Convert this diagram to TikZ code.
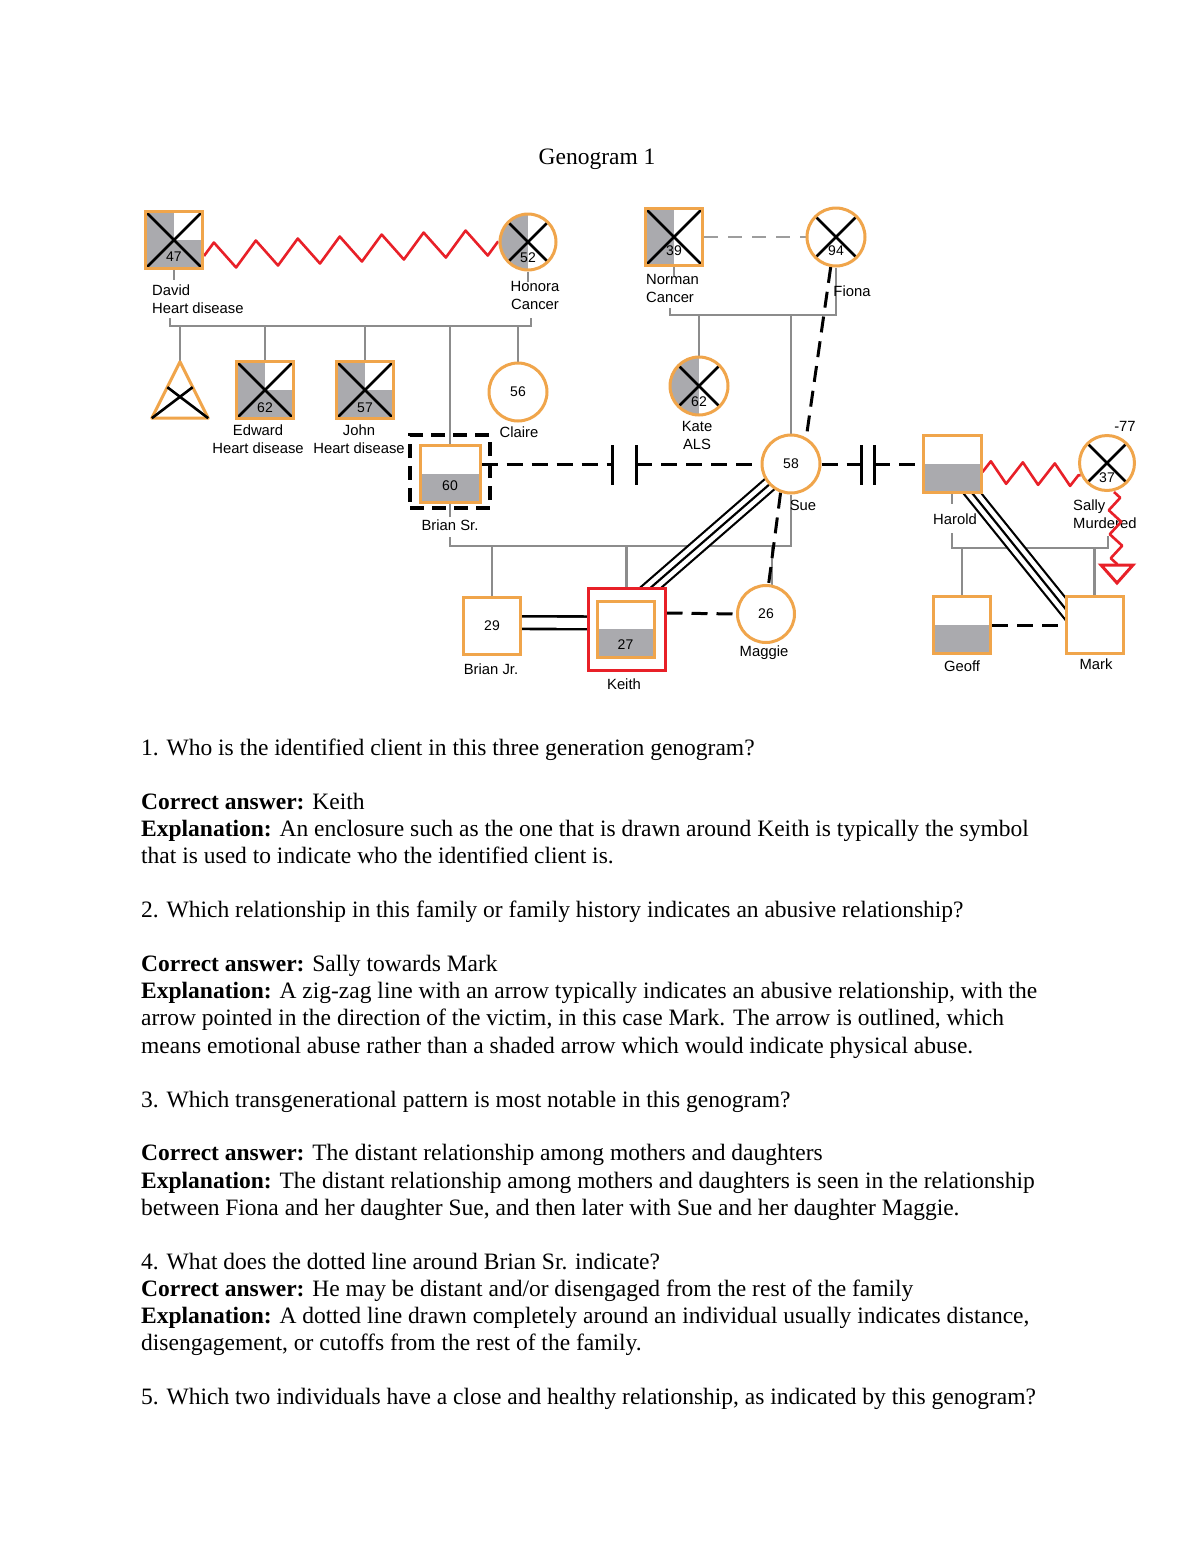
\documentclass[tikz,border=0pt]{standalone}
\usepackage{fontspec}
\setmainfont{Liberation Serif}
\newfontfamily\gfont{Liberation Sans}
\usetikzlibrary{calc,decorations.pathmorphing,backgrounds}
\definecolor{orng}{RGB}{240,165,75}
\definecolor{gry}{RGB}{170,170,174}
\definecolor{kingry}{RGB}{140,140,140}
\definecolor{rd}{RGB}{232,32,40}
\newcommand\ppbb{path picture bounding box}
\newcommand\PX{\draw[line width=2.6pt,black] (\ppbb.south west)--(\ppbb.north east) (\ppbb.north west)--(\ppbb.south east);}
\newcommand\PLeft{\fill[gry] (\ppbb.south west) rectangle (\ppbb.north);}
\newcommand\PBot{\fill[gry] (\ppbb.west) rectangle (\ppbb.south east);}
\newcommand\PThree{\fill[gry] (\ppbb.south west) rectangle (\ppbb.north east);\fill[white] (\ppbb.center) rectangle (\ppbb.north east);}
\newcommand\lownum[2]{\raisebox{-#1pt}[0pt][0pt]{#2}}
\tikzset{
  person/.style={draw=orng, line width=3pt, fill=white, inner sep=0pt, font=\gfont\fontsize{14}{15}\selectfont},
  male/.style={person, rectangle, minimum size=57pt},
  female/.style={person, circle, minimum size=57pt},
  pp/.style={path picture={#1}},
  lbl/.style={font=\gfont\fontsize{14.8}{18}\selectfont, inner sep=0pt, align=center},
  kin/.style={draw=kingry, line width=2.2pt},
  distant/.style={draw=black, line width=3pt, dash pattern=on 16pt off 9pt},
  cutbar/.style={draw=black, line width=3pt},
  hostile/.style 2 args={draw=rd, line width=2.6pt, line join=round, decorate, decoration={zigzag, segment length=#1, amplitude=#2}},
  triple/.style={preaction={draw=black, line width=16pt}, preaction={draw=white, line width=11.6pt}, draw=black, line width=2.2pt},
  dbl/.style={draw=black, double=white, line width=2.6pt, double distance=10pt},
  body/.style={anchor=base west, inner sep=0pt, font=\fontsize{23.5}{27}\selectfont},
}
\begin{document}
\begin{tikzpicture}[x=1pt,y=-1pt]
\path[use as bounding box] (0,0) rectangle (1200,1553);
\node[anchor=base, inner sep=0pt, font=\fontsize{23.5}{27}\selectfont] (title) at (597,164) {Genogram 1};

% ---------- persons ----------
\node[male, pp={\PThree\PX}] (david) at (174,240) {\lownum{21}{47}};
\node[female, minimum size=56pt, pp={\PLeft\PX}] (honora) at (528,242) {\lownum{20}{52}};
\node[male, pp={\PLeft\PX}] (norman) at (674,237) {\lownum{18}{39}};
\node[female, minimum size=58pt, pp={\PX}] (fiona) at (836,237) {\lownum{18}{94}};

\node[minimum size=56pt, inner sep=0pt] (tri) at (180,390) {};
\draw[draw=orng, line width=3pt, fill=white, line join=round] (tri.south west) -- (tri.north) -- (tri.south east) -- cycle;
\draw[line width=2.6pt] (tri.south west) -- ($(tri.south east)!0.55!(tri.north)$);
\draw[line width=2.6pt] (tri.south east) -- ($(tri.south west)!0.55!(tri.north)$);
\node[male, pp={\PThree\PX}] (edward) at (265,390) {\lownum{22}{62}};
\node[male, pp={\PThree\PX}] (john) at (365,390) {\lownum{22}{57}};
\node[female, minimum size=58pt] (claire) at (518,392) {56};
\node[female, minimum size=58pt, pp={\PLeft\PX}] (kate) at (699,386) {\lownum{20}{62}};

\node[draw=black, line width=3.8pt, dash pattern=on 14pt off 8pt, minimum width=80pt, minimum height=73pt, inner sep=0pt] (encl) at (450,471.5) {};
\node[male, minimum width=60pt, pp={\PBot}] (briansr) at (450,473.5) {\lownum{17}{60}};
\node[female, minimum size=58pt] (sue) at (791,464) {58};
\node[male, minimum width=58pt, pp={\PBot}] (harold) at (952,464) {};
\node[female, minimum size=55pt, pp={\PX}] (sally) at (1107,463) {\lownum{19}{37}};

\node[male] (brianjr) at (492,626) {29};
\node[draw=rd, line width=3pt, fill=white, minimum width=77pt, minimum height=82pt, inner sep=0pt] (keithbox) at (626.5,629) {};
\node[male, minimum height=56pt, pp={\PBot}] (keith) at (625.5,629) {\lownum{20}{27}};
\node[female] (maggie) at (766,614) {26};
\node[male, pp={\PBot}] (geoff) at (962,625) {};
\node[male] (mark) at (1094.5,625) {};

% ---------- labels ----------
\node[lbl, align=left, anchor=west] (davidl) at (152,299) {David\\Heart disease};
\node[lbl] (honoral) at (535,295) {Honora\\Cancer};
\node[lbl, align=left, anchor=west] (normanl) at (646,288) {Norman\\Cancer};
\node[lbl] (fional) at (852,291) {Fiona};
\node[lbl] (edwardl) at (258,439) {Edward\\Heart disease};
\node[lbl] (johnl) at (359,439) {John\\Heart disease};
\node[lbl] (clairel) at (519,432) {Claire};
\node[lbl] (katel) at (697,435) {Kate\\ALS};
\node[lbl] (briansrl) at (450,525) {Brian Sr.};
\node[lbl] (suel) at (803,505) {Sue};
\node[lbl] (haroldl) at (955,519) {Harold};
\node[lbl] (sallyd) at (1125,426) {-77};
\node[lbl, align=left, anchor=west] (sallyl) at (1073,514) {Sally\\Murdered};
\node[lbl] (brianjrl) at (491,669) {Brian Jr.};
\node[lbl] (keithl) at (624,684) {Keith};
\node[lbl] (maggiel) at (764,653) {Maggie};
\node[lbl] (geoffl) at (962,666) {Geoff};
\node[lbl] (markl) at (1096,664) {Mark};

% ---------- text ----------
\node[body] (t1) at (141,755) {1. Who is the identified client in this three generation genogram?};
\node[body] (t2) at (141,809) {\textbf{Correct answer:} Keith};
\node[body] (t3) at (141,836) {\textbf{Explanation:} An enclosure such as the one that is drawn around Keith is typically the symbol};
\node[body] (t4) at (141,863) {that is used to indicate who the identified client is.};
\node[body] (t5) at (141,917) {2. Which relationship in this family or family history indicates an abusive relationship?};
\node[body] (t6) at (141,971) {\textbf{Correct answer:} Sally towards Mark};
\node[body] (t7) at (141,998) {\textbf{Explanation:} A zig-zag line with an arrow typically indicates an abusive relationship, with the};
\node[body] (t8) at (141,1025) {arrow pointed in the direction of the victim, in this case Mark. The arrow is outlined, which};
\node[body] (t9) at (141,1053) {means emotional abuse rather than a shaded arrow which would indicate physical abuse.};
\node[body] (t10) at (141,1107) {3. Which transgenerational pattern is most notable in this genogram?};
\node[body] (t11) at (141,1160) {\textbf{Correct answer:} The distant relationship among mothers and daughters};
\node[body] (t12) at (141,1188) {\textbf{Explanation:} The distant relationship among mothers and daughters is seen in the relationship};
\node[body] (t13) at (141,1215) {between Fiona and her daughter Sue, and then later with Sue and her daughter Maggie.};
\node[body] (t14) at (141,1269) {4. What does the dotted line around Brian Sr. indicate?};
\node[body] (t15) at (141,1296) {\textbf{Correct answer:} He may be distant and/or disengaged from the rest of the family};
\node[body] (t16) at (141,1323) {\textbf{Explanation:} A dotted line drawn completely around an individual usually indicates distance,};
\node[body] (t17) at (141,1350) {disengagement, or cutoffs from the rest of the family.};
\node[body] (t18) at (141,1404) {5. Which two individuals have a close and healthy relationship, as indicated by this genogram?};

% ---------- connectors (behind) ----------
\begin{scope}[on background layer]
\fill[white] (0,0) rectangle (1200,1553);
% David + Honora
\coordinate (dhL) at (170,326);
\coordinate (dhR) at (531,326);
\draw[kin] (david.south) -- ++(0,10);
\draw[kin] (honora.south) -- ++(0,10);
\draw[kin] ($(dhL)+(0,-8)$) -- (dhL) -- (dhR) -- ++(0,-8);
\draw[kin] (tri.north |- dhL) -- (tri.north);
\draw[kin] (edward.north |- dhL) -- (edward.north);
\draw[kin] (john.north |- dhL) -- (john.north);
\draw[kin] (briansr.north |- dhL) -- (briansr.north);
\draw[kin] (claire.north |- dhL) -- (claire.north);
\draw[hostile={42pt}{13pt}] ($(david.east)+(0,16)$) -- (honora.west);
% Norman + Fiona
\coordinate (nfL) at (670,315);
\coordinate (nfR) at (836,315);
\draw[kin] (norman.south) -- ++(0,9);
\draw[kin] ($(nfL)+(0,-7)$) -- (nfL) -- (nfR) -- (fiona.south);
\draw[kin] (kate.north |- nfL) -- (kate.north);
\draw[kin] (sue.north |- nfL) -- (sue.north);
\draw[draw=kingry!85, line width=2.6pt, dash pattern=on 14pt off 10pt] (norman.east) -- (fiona.west);
\draw[distant] (fiona.260) -- (sue.60);
% Brian Sr + Sue
\coordinate (bsL) at (450,546);
\coordinate (bsR) at (791,546);
\draw[kin] (briansr.south) -- ++(0,13);
\draw[kin] ($(bsL)+(0,-9)$) -- (bsL) -- (bsR) -- (sue.south);
\draw[kin] (brianjr.north |- bsL) -- (brianjr.north);
\draw[kin] (keithbox.north |- bsL) -- (keithbox.north);
\draw[kin] (maggie.78 |- bsL) -- (maggie.78);
\coordinate (d1) at (612,464);
\coordinate (d2) at (636,464);
\draw[distant] (briansr.east |- d1) -- (d1);
\draw[distant] (d2) -- (sue.west);
\draw[cutbar] (612,445) -- (612,485);
\draw[cutbar] (636,445) -- (636,485);
% Sue + Harold
\coordinate (d3) at (861,464);
\coordinate (d4) at (874,464);
\draw[distant] (sue.east) -- (d3);
\draw[distant] (d4) -- (harold.west);
\draw[cutbar] (861,445) -- (861,485);
\draw[cutbar] (874,445) -- (874,485);
% Harold + Sally
\coordinate (hsL) at (952,548);
\coordinate (hsR) at (1108,548);
\draw[kin] (harold.south) -- ++(0,10);
\draw[kin] ($(hsL)+(0,-15)$) -- (hsL) -- (hsR) -- ++(0,-12);
\draw[kin] (geoff.north |- hsL) -- (geoff.north);
\draw[kin] (mark.north |- hsL) -- (mark.north);
\draw[hostile={32pt}{11pt}] ($(harold.east)+(0,8)$) -- (sally.205);
% relationships
\draw[distant] (sue.250) -- (maggie.85);
\draw[distant] ($(keithbox.east)+(0,-16)$) -- (maggie.west);
\draw[distant] (geoff.east) -- (mark.west);
\draw[dbl] ($(brianjr.center)+(0,-3.5)$) -- ($(keithbox.center)+(0,-6)$);
\draw[triple] ($(sue.center)+(-12,12)$) -- ($(keithbox.center)+(10,-29)$);
\draw[triple] ($(harold.center)+(8,14)$) -- ($(mark.center)+(-20,-5)$);
\end{scope}
% abuse arrow from Sally
\coordinate (abuse) at (1117,565);
\draw[hostile={24pt}{6pt}] ($(sally.south)+(7,0)$) -- (abuse);
\draw[draw=rd, line width=3pt, fill=white] ($(abuse)+(-16,0)$) -- ($(abuse)+(16,0)$) -- ($(abuse)+(0,18)$) -- cycle;
\end{tikzpicture}
\end{document}
